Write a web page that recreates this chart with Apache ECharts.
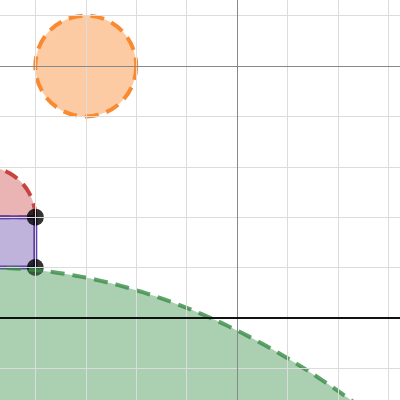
<!DOCTYPE html>
<html><head><meta charset="utf-8">
<script src="https://cdn.jsdelivr.net/npm/echarts@6/dist/echarts.min.js"></script>
<style>html,body{margin:0;padding:0;background:#fff}#c{width:400px;height:400px}</style>
</head><body><div id="c"></div>
<script>
// shapes, in graph units
const sunCenter = [2, 5], sunRadius = 1;
const domeCenter = [0, 2], domeRadius = 1;
const boxCorners = [[-1, 1], [1, 1], [1, 2], [-1, 2]];
const dots = [[1, 2], [1, 1]];
const hillTop = 1, hillScale = 20; // y = hillTop - x^2 / hillScale
const minorX = [1, 2, 3, 4, 6, 7, 8], minorY = [-1, 1, 2, 3, 4, 6];
const majorX = [5], majorY = [5];

const hill = [];
for (let x = 0; x <= 9; x += 0.1) hill.push([x, hillTop - x * x / hillScale]);
const dome = [];
for (let a = 0; a <= 180; a += 5) {
  const r = a * Math.PI / 180;
  dome.push([domeCenter[0] + domeRadius * Math.cos(r), domeCenter[1] + domeRadius * Math.sin(r)]);
}

function poly(pts, color, dashed) {
  return {
    type: 'custom', data: [0], clip: true,
    renderItem: (p, api) => ({
      type: 'polygon',
      shape: { points: pts.map(q => api.coord(q)) },
      style: { fill: color, opacity: 1, fillOpacity: 0.4, stroke: color, lineWidth: 4, lineDash: dashed ? [14, 8] : null }
    })
  };
}
const ln = (c, w) => ({ color: c, width: w, type: 'solid' });

const chart = echarts.init(document.getElementById('c'));
chart.setOption({
  animation: false,
  grid: { left: 0, top: 0, right: 0, bottom: 0 },
  xAxis: {
    type: 'value', min: 0.3, max: 8.23,
    axisLine: { show: false }, axisTick: { show: false }, axisLabel: { show: false },
    splitLine: { show: false }
  },
  yAxis: {
    type: 'value', min: -1.63, max: 6.31,
    axisLine: { show: false }, axisTick: { show: false }, axisLabel: { show: false },
    splitLine: { show: false }
  },
  series: [
    {
      type: 'line', data: [], silent: true,
      markLine: {
        symbol: 'none', label: { show: false },
        data: minorX.map(v => ({ xAxis: v, lineStyle: ln('#dcdcdc', 1) }))
          .concat(minorY.map(v => ({ yAxis: v, lineStyle: ln('#dcdcdc', 1) })))
          .concat(majorX.map(v => ({ xAxis: v, lineStyle: ln('#888', 1) })))
          .concat(majorY.map(v => ({ yAxis: v, lineStyle: ln('#888', 1) })))
          .concat([{ yAxis: 0, lineStyle: ln('#111', 2) }])
      }
    },
    {
      type: 'line', data: hill, showSymbol: false, smooth: false,
      lineStyle: { color: '#388c46', width: 4, type: [14, 8], opacity: 0.8 },
      areaStyle: { color: 'rgba(56,140,70,0.42)', opacity: 1, origin: 'start' }
    },
    {
      type: 'custom', data: [0],
      renderItem: (p, api) => {
        const c = api.coord(sunCenter), r = api.size([sunRadius, 0])[0];
        return { type: 'circle', shape: { cx: c[0], cy: c[1], r: r },
          style: { fill: 'rgba(250,126,25,0.4)', stroke: '#fa8a30', lineWidth: 4, lineDash: [14, 8] } };
      }
    },
    poly(dome, '#c74440', true),
    poly(boxCorners, '#6042a6', false),
    {
      type: 'scatter', data: dots, symbolSize: 17,
      itemStyle: { color: '#000' }
    }
  ]
});
</script></body></html>
